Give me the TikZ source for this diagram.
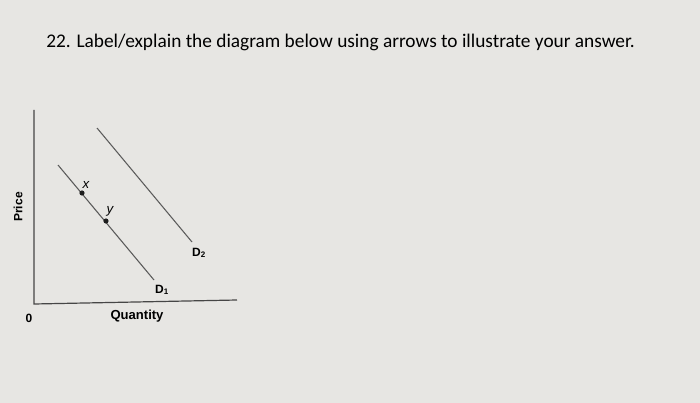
\documentclass[tikz,border=0pt]{standalone}
\usepackage{fontspec}
\setmainfont{Liberation Sans}
\newfontfamily\titlefont{Carlito}
\begin{document}
\begin{tikzpicture}[x=0.75pt,y=0.75pt,yscale=-1,xscale=1]
\useasboundingbox (0,0) rectangle (700,403);
%paper background
\fill [fill={rgb, 255:red, 231; green, 230; blue, 227 }] (0,0) rectangle (700,403);

% Text Node
\draw (45,42) node [anchor=west][inner sep=0.75pt] (title) {\titlefont\fontsize{14.5}{17}\selectfont 22. Label/explain the diagram below using arrows to illustrate your answer.};

%axis ends
\coordinate (top) at (34,110);
\coordinate (origin) at (34,304);
\coordinate (right) at (237,300);
%Straight Lines
\draw [color={rgb, 255:red, 70; green, 70; blue, 70 }, line width=0.9] (top) -- (origin) -- (right);

%demand ends
\coordinate (d1a) at (58,165);
\coordinate (d1b) at (154,280);
\coordinate (d2a) at (97,128);
\coordinate (d2b) at (192,242);
%Straight Lines
\draw [color={rgb, 255:red, 90; green, 90; blue, 90 }, line width=0.8] (d1a) -- (d1b);
%Straight Lines
\draw [color={rgb, 255:red, 90; green, 90; blue, 90 }, line width=0.8] (d2a) -- (d2b);

%points on D1
\fill [color={rgb, 255:red, 30; green, 30; blue, 30 }] (82,193) circle (2.6) coordinate (px);
\fill [color={rgb, 255:red, 30; green, 30; blue, 30 }] (106,221) circle (2.6) coordinate (py);

% Text Node
\draw (px) ++(4,-8) node [inner sep=0.75pt] (lx) {\itshape x};
% Text Node
\draw (py) ++(4,-10) node [inner sep=0.75pt] (ly) {\itshape y};
% Text Node
\draw (199,253) node [inner sep=0.75pt] (ld2) {\small\bfseries D$_{\mathbf 2}$};
% Text Node
\draw (162,290) node [inner sep=0.75pt] (ld1) {\small\bfseries D$_{\mathbf 1}$};
% Text Node
\draw (29,318) node [inner sep=0.75pt] (zero) {\small\bfseries 0};
% Text Node
\draw (137,316) node [inner sep=0.75pt] (qty) {\fontsize{9.8}{12}\selectfont\bfseries Quantity};
% Text Node
\draw (18,207) node [inner sep=0.75pt, rotate=90] (price) {\small\bfseries Price};
\end{tikzpicture}
\end{document}
